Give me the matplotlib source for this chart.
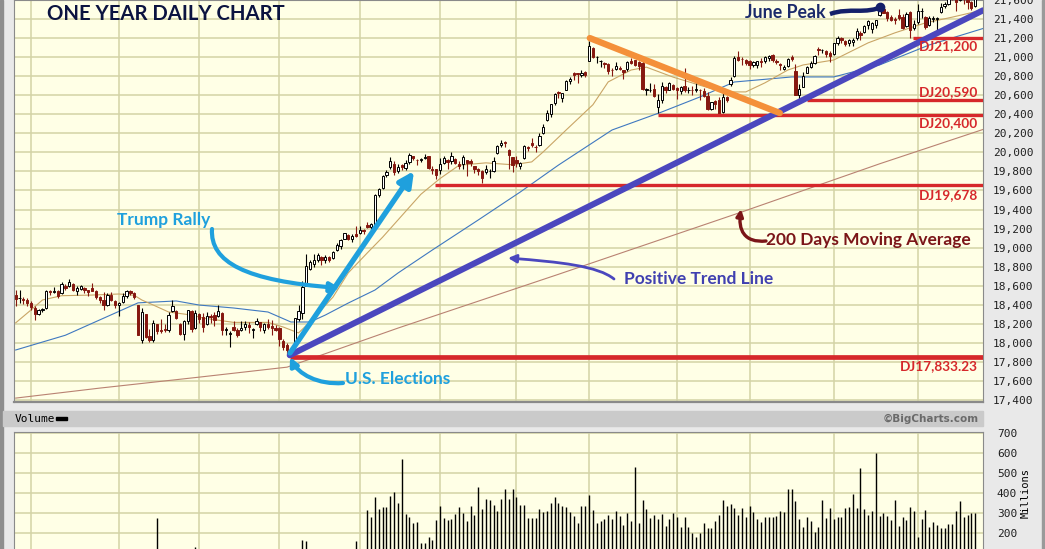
import numpy as np
import matplotlib
matplotlib.use("Agg")
import matplotlib.pyplot as plt
from matplotlib.path import Path
from matplotlib.patches import FancyArrowPatch, PathPatch, Rectangle

# ---- DJIA daily data, Jul 2016 - Jul 2017 ----
opens = [
    18500, 18470, 18465, 18450,
    18420, 18370, 18300, 18340, 18370, 18545, 18530, 18545, 18520, 18600, 18600, 18620,
    18545, 18570, 18580, 18550, 18580, 18545, 18480, 18450, 18400, 18500, 18440,
    18395, 18425, 18490, 18540, 18525, 18400, 18030, 18300, 18070, 18030, 18200,
    18140, 18150, 18130, 18330, 18330, 18200, 18090, 18230, 18330, 18160,
    18300, 18270, 18200, 18280, 18290, 18280, 18310, 18130, 18090, 18170, 18140,
    18130, 18165, 18190, 18140, 18200, 18220, 18130, 18200, 18180, 18160,
    18160, 18020, 17980, 17930, 17995, 18250, 18315, 18600, 18780, 18830, 18870,
    18900, 18870, 18905, 18890, 18980, 19015, 19095, 19130, 19090, 19140,
    19150, 19185, 19240, 19220, 19250, 19550, 19630, 19760, 19850, 19880, 19800,
    19870, 19840, 19900, 19960, 19925, 19920, 19945, 19960, 19830, 19830,
    19820, 19890, 19925, 19905, 19930, 19880, 19880, 19920, 19905, 19860,
    19830, 19800, 19795, 19800, 19800, 19995, 20080, 20105, 20030, 19950,
    19920, 19860, 19940, 20060, 20100, 20060, 20080, 20200, 20340, 20400,
    20520, 20630, 20570, 20660, 20750, 20830, 20830, 20810, 20840,
    20960, 21100, 21000, 20955, 20940, 20925, 20870, 20880, 20890, 20860, 20880, 20960,
    20970, 20950, 20935, 20660, 20650, 20670, 20480, 20545, 20690, 20660, 20710,
    20680, 20640, 20700, 20650, 20660, 20660, 20660, 20640, 20590, 20460,
    20540, 20550, 20420, 20580, 20720, 20800, 21000, 20985, 20970,
    20960, 20920, 20920, 20960, 20960, 20990, 21020, 20960, 20930, 20880, 20910,
    21000, 20850, 20600, 20690, 20830, 20900, 20940, 21090, 21075, 21060, 21040,
    21030, 21150, 21200, 21170, 21150, 21160, 21200, 21250, 21260, 21340, 21300,
    21340, 21440, 21510, 21470, 21420, 21400, 21440, 21420, 21330, 21470, 21310,
    21370, 21480, 21420, 21340, 21400, 21400, 21470, 21540, 21560, 21640, 21610,
    21600, 21650, 21600, 21580, 21540,
]
highs = [
    18550, 18560, 18480, 18470,
    18440, 18390, 18360, 18370, 18560, 18560, 18590, 18560, 18640, 18620, 18670, 18625,
    18600, 18610, 18590, 18560, 18630, 18550, 18495, 18530, 18520, 18530, 18450,
    18430, 18520, 18550, 18560, 18535, 18400, 18370, 18300, 18150, 18240, 18200,
    18250, 18200, 18320, 18450, 18340, 18210, 18240, 18345, 18350, 18350,
    18310, 18310, 18320, 18300, 18320, 18400, 18320, 18170, 18120, 18230, 18160,
    18230, 18230, 18220, 18160, 18260, 18220, 18210, 18250, 18240, 18190,
    18170, 18040, 18000, 17960, 18260, 18400, 18650, 18935, 18870, 18935, 18940,
    18910, 18920, 18915, 18960, 19045, 19090, 19155, 19140, 19140, 19230,
    19225, 19200, 19265, 19260, 19560, 19630, 19760, 19815, 19955, 19910, 19880,
    19880, 19920, 19990, 19960, 19935, 19940, 19985, 19960, 19860, 19830,
    19940, 19960, 19930, 20000, 19945, 19905, 19975, 19925, 19930, 19860,
    19840, 19810, 19870, 19830, 19950, 20080, 20125, 20120, 20040, 19950,
    19960, 19900, 20080, 20070, 20155, 20075, 20200, 20300, 20440, 20505,
    20620, 20640, 20625, 20760, 20790, 20840, 20830, 20860, 20850,
    21170, 21110, 21010, 20970, 20950, 20935, 20890, 20950, 20910, 20860, 20960, 20990,
    20975, 20960, 20960, 20680, 20730, 20720, 20610, 20740, 20700, 20740, 20720,
    20690, 20700, 20890, 20690, 20700, 20730, 20665, 20680, 20630, 20530,
    20550, 20580, 20630, 20590, 20790, 21010, 21060, 21000, 20980,
    20970, 20960, 20960, 20990, 21010, 21020, 21030, 20985, 20940, 20920, 20990,
    21020, 20930, 20720, 20840, 20910, 20960, 21020, 21110, 21090, 21070, 21060,
    21150, 21225, 21210, 21180, 21190, 21200, 21305, 21270, 21340, 21390, 21365,
    21395, 21535, 21520, 21480, 21445, 21420, 21505, 21450, 21470, 21480, 21390,
    21560, 21520, 21430, 21430, 21430, 21420, 21570, 21580, 21680, 21660, 21620,
    21660, 21660, 21610, 21590, 21650,
]
lows = [
    18390, 18420, 18410, 18390,
    18350, 18240, 18290, 18320, 18360, 18505, 18520, 18470, 18510, 18560, 18590, 18540,
    18500, 18550, 18520, 18490, 18540, 18460, 18420, 18350, 18390, 18440, 18370,
    18280, 18420, 18470, 18500, 18460, 18080, 18000, 18050, 18010, 18010, 18090,
    18100, 18110, 18110, 18320, 18250, 18080, 18030, 18200, 18110, 18150,
    18210, 18110, 18190, 18210, 18180, 18270, 18080, 18080, 17960, 18120, 18060,
    18120, 18140, 18100, 18050, 18190, 18120, 18100, 18150, 18080, 18120,
    17970, 17930, 17880, 17880, 17995, 18230, 18250, 18600, 18760, 18800, 18850,
    18820, 18840, 18850, 18880, 18960, 18990, 19090, 19080, 19060, 19110,
    19140, 19145, 19210, 19200, 19230, 19530, 19620, 19740, 19830, 19760, 19780,
    19810, 19820, 19880, 19920, 19865, 19900, 19930, 19830, 19770, 19720,
    19770, 19880, 19830, 19880, 19880, 19825, 19830, 19750, 19860, 19780,
    19760, 19680, 19770, 19730, 19790, 19980, 20060, 20060, 19830, 19790,
    19850, 19830, 19930, 20010, 20060, 20000, 20065, 20190, 20330, 20370,
    20500, 20570, 20530, 20660, 20720, 20760, 20730, 20790, 20790,
    20960, 20990, 20940, 20900, 20890, 20825, 20800, 20860, 20860, 20770, 20850, 20925,
    20905, 20870, 20660, 20600, 20630, 20580, 20410, 20520, 20620, 20650, 20650,
    20560, 20610, 20630, 20620, 20600, 20630, 20550, 20580, 20450, 20450,
    20460, 20400, 20410, 20530, 20700, 20790, 20960, 20920, 20920,
    20880, 20900, 20890, 20900, 20940, 20960, 20950, 20930, 20860, 20860, 20900,
    20960, 20600, 20550, 20690, 20830, 20890, 20930, 21020, 21040, 21000, 20950,
    21020, 21130, 21150, 21120, 21120, 21120, 21180, 21180, 21250, 21300, 21250,
    21310, 21430, 21460, 21380, 21380, 21350, 21390, 21300, 21320, 21200, 21290,
    21350, 21410, 21300, 21330, 21370, 21270, 21460, 21520, 21550, 21600, 21480,
    21590, 21560, 21510, 21500, 21530,
]
closes = [
    18460, 18475, 18445, 18420,
    18380, 18305, 18350, 18355, 18540, 18530, 18540, 18495, 18615, 18580, 18635, 18550,
    18575, 18600, 18550, 18530, 18545, 18480, 18450, 18395, 18500, 18455, 18400,
    18420, 18490, 18540, 18525, 18480, 18085, 18325, 18065, 18035, 18210, 18125,
    18120, 18130, 18295, 18390, 18260, 18095, 18230, 18340, 18145, 18310,
    18255, 18170, 18280, 18270, 18240, 18330, 18130, 18145, 18100, 18140, 18085,
    18160, 18200, 18165, 18145, 18225, 18170, 18200, 18170, 18160, 18140,
    18040, 17960, 17930, 17890, 18260, 18330, 18590, 18810, 18850, 18870, 18925,
    18870, 18905, 18865, 18955, 19025, 19085, 19150, 19095, 19120, 19125,
    19190, 19170, 19215, 19250, 19550, 19615, 19755, 19795, 19910, 19790, 19850,
    19845, 19885, 19975, 19940, 19920, 19935, 19945, 19835, 19820, 19760,
    19880, 19940, 19900, 19965, 19890, 19855, 19955, 19890, 19885, 19825,
    19805, 19730, 19825, 19800, 19910, 20070, 20100, 20095, 19970, 19865,
    19890, 19885, 20070, 20050, 20080, 20055, 20170, 20270, 20410, 20505,
    20610, 20620, 20625, 20745, 20775, 20810, 20820, 20835, 20810,
    21115, 21000, 21005, 20955, 20925, 20855, 20860, 20905, 20880, 20840, 20950, 20935,
    20915, 20905, 20670, 20660, 20655, 20595, 20550, 20700, 20660, 20730, 20665,
    20650, 20690, 20650, 20660, 20655, 20660, 20650, 20590, 20455, 20525,
    20510, 20405, 20580, 20550, 20765, 20995, 20975, 20980, 20940,
    20915, 20950, 20955, 20950, 21005, 21010, 20975, 20945, 20920, 20895, 20980,
    20980, 20605, 20665, 20805, 20895, 20935, 21010, 21080, 21080, 21030, 21010,
    21145, 21205, 21185, 21135, 21175, 21180, 21270, 21235, 21330, 21375, 21360,
    21385, 21530, 21465, 21410, 21395, 21395, 21410, 21310, 21455, 21285, 21350,
    21480, 21480, 21320, 21415, 21410, 21410, 21530, 21555, 21640, 21630, 21575,
    21640, 21610, 21580, 21515, 21615,
]
volume = [  # millions
    95, 80, 88, 92, 85, 90, 96, 88, 100, 76, 82, 86, 94, 85, 80, 92, 78, 74, 90, 70,
    78, 84, 88, 80, 92, 86, 98, 96, 90, 78, 86, 88, 118, 112, 110, 100, 96, 275, 94, 92,
    102, 98, 88, 96, 94, 100, 102, 130, 96, 100, 90, 86, 84, 96, 104, 92, 98, 96, 94, 88,
    92, 90, 94, 86, 90, 96, 100, 94, 96, 104, 100, 98, 102, 110, 116, 165, 160, 112, 104, 98,
    100, 96, 94, 100, 92, 90, 70, 98, 104, 160, 112, 110,
    315, 278, 378, 320, 328, 328, 383, 405, 348, 568, 295, 280, 250, 255, 148, 148, 178, 165, 265, 333,
    275, 265, 270, 295, 328, 300, 260, 335, 288, 428, 320, 370, 365, 340, 310, 370, 418, 370, 418, 380,
    340, 340, 277, 277, 277, 320, 305, 310, 348, 380, 348, 335, 328, 305, 287, 252, 335, 335, 390, 315,
    252, 262, 270, 290, 270, 310, 285, 240, 300, 262, 532, 252, 365, 320, 273, 290, 268, 295, 235, 270,
    298, 282, 232, 282, 228, 198, 182, 202, 252, 225, 227, 262, 290, 365, 335, 345, 323, 290, 327, 282,
    335, 305, 270, 255, 278, 278, 282, 285, 310, 305, 418, 418, 360, 270, 232, 278, 262, 203, 232, 365,
    273, 323, 268, 282, 278, 323, 332, 395, 323, 523, 318, 290, 310, 598, 285, 302, 285, 265, 365, 235,
    282, 265, 328, 310, 178, 270, 315, 232, 257, 240, 223, 227, 243, 243, 310, 360, 278, 290, 298, 298,
]

# moving averages as drawn (day index, price)
ma20_day = [0, 4, 7, 12, 20, 27, 31, 33, 36, 40, 46, 49, 57, 66, 70, 74, 77, 83, 87, 92,
            96, 100, 106, 111, 116, 123, 130, 135, 138, 144, 151, 155, 161, 165, 172, 179,
            185, 191, 196, 202, 206, 214, 223, 230, 238, 245, 253]
ma20_val = [18210, 18345, 18450, 18495, 18502, 18513, 18500, 18450, 18397, 18324, 18292,
            18261, 18215, 18215, 18166, 18104, 18220, 18480, 18735, 18945, 19110, 19290,
            19560, 19725, 19865, 19890, 19870, 19900, 20005, 20235, 20500, 20740, 20865,
            20895, 20790, 20705, 20635, 20635, 20730, 20865, 20918, 20970, 21150, 21255,
            21360, 21420, 21495]
ma50_day = [0, 13, 32, 42, 48, 57, 66, 72, 77, 81, 87, 94, 100, 109, 121, 132, 142, 156,
            169, 179, 188, 203, 214, 226, 239, 253]
ma50_val = [17925, 18080, 18420, 18440, 18397, 18366, 18324, 18219, 18219, 18292, 18418,
            18555, 18733, 18975, 19290, 19584, 19867, 20235, 20424, 20582, 20739, 20792,
            20792, 20918, 21128, 21300]
ma200_day = [0, 22, 48, 71, 100, 142, 190, 226, 253]
ma200_val = [17420, 17525, 17640, 17745, 18155, 18720, 19375, 19880, 20240]

month_starts = [4, 27, 48, 69, 90, 111, 131, 150, 173, 192, 214, 236]
price_ticks = list(range(17400, 21601, 200))
vol_ticks = [200, 300, 400, 500, 600, 700]

support_level = [17850, 19660, 20395, 20550, 21205]
support_from = [71.7, 109.7, 168, 207, 234.7]
support_text = ["DJ17,833.23", "DJ19,678", "DJ20,400", "DJ20,590", "DJ21,200"]

# ---- styles ----
W, H = 1045, 549
BG = "#E9E9E9"
PANEL = "#FFFFE6"
GRID = "#D3D3A6"
RED_C = "#861810"
LBLUE = "#1FA0DD"
TREND = "#4B47BE"
SUP = "#D6282B"
ANN_FONT = ["Lato", "DejaVu Sans"]
ANN_SIZE = 12.5

fig = plt.figure(figsize=(W / 100, H / 100), dpi=100, facecolor=BG)

XL = (-0.44, 253.05)
ax = fig.add_axes([14 / W, 1 - 402 / H, 969 / W, 402 / H], facecolor=PANEL)
ax.set_xlim(*XL)
ax.set_ylim(21600 - 402 * 10.5, 21600)

o, h, l, c = map(np.array, (opens, highs, lows, closes))
x = np.arange(len(c))
up = c >= o
lo = np.minimum(o, c)
hb = np.maximum(np.abs(c - o), 4)

ax.set_xticks(month_starts)
ax.set_yticks(price_ticks)
ax.grid(True, color=GRID, lw=1.1, zorder=0)
ax.set_axisbelow(True)
ax.yaxis.tick_right()
ax.tick_params(axis="y", length=0, pad=7, labelsize=8, labelcolor="#202020")
ax.tick_params(axis="x", length=0, labelbottom=False)
ax.set_yticklabels([f"{v:,}" for v in price_ticks], family="DejaVu Sans Mono")
for s in ax.spines.values():
    s.set_color("#8A8A8A")
ax.spines["bottom"].set_linewidth(1.6)

ax.plot(ma200_day, ma200_val, color="#B98272", lw=0.8, zorder=2)
ax.plot(ma50_day, ma50_val, color="#3F78C0", lw=0.8, zorder=2)
ax.plot(ma20_day, ma20_val, color="#C9A566", lw=0.8, zorder=2)

ax.vlines(x[up], l[up], h[up], color="black", lw=0.8, zorder=3)
ax.vlines(x[~up], l[~up], h[~up], color=RED_C, lw=0.8, zorder=3)
ax.bar(x[up], hb[up], bottom=lo[up], width=0.6, facecolor="white",
       edgecolor="black", lw=0.7, zorder=4)
ax.bar(x[~up], hb[~up], bottom=lo[~up], width=0.6, facecolor=RED_C,
       edgecolor=RED_C, lw=0.7, zorder=4)

# annotations living on the price scale
for lev, x0 in zip(support_level, support_from):
    ax.plot([x0, XL[1]], [lev, lev], color=SUP, lw=3.4 if lev < 18000 else 2.4,
            zorder=6, solid_capstyle="butt")
ax.plot([71.7, XL[1]], [17870, 17870 + 19.97 * (XL[1] - 71.7)], color=TREND, lw=4.4,
        zorder=7, solid_capstyle="round")
ax.plot([150.2, 199.9], [21200, 20413], color="#F4903A", lw=4.6, zorder=7,
        solid_capstyle="round")

# volume panel
axv = fig.add_axes([14 / W, 1 - 573 / H, 969 / W, 141 / H], facecolor=PANEL)
axv.set_xlim(*XL)
axv.set_ylim(0, 705)
axv.set_xticks(month_starts)
axv.set_yticks(vol_ticks)
axv.grid(True, color=GRID, lw=1.1, zorder=0)
axv.set_axisbelow(True)
axv.yaxis.tick_right()
axv.tick_params(axis="y", length=0, pad=10, labelsize=8, labelcolor="#202020")
axv.tick_params(axis="x", length=0, labelbottom=False)
axv.set_yticklabels([str(v) for v in vol_ticks], family="DejaVu Sans Mono")
for s in axv.spines.values():
    s.set_color("#8A8A8A")
axv.vlines(np.arange(len(volume)), 0, volume, color="black", lw=1.0, zorder=3)

# overlay in pixel coordinates for hand-drawn notes
ov = fig.add_axes([0, 0, 1, 1], facecolor="none")
ov.set_xlim(0, W)
ov.set_ylim(H, 0)
ov.axis("off")

ov.add_patch(Rectangle((0, 0), 3, H, color="#8E8E8E", zorder=0))
ov.add_patch(Rectangle((1042, 0), 3, H, color="#9A9A9A", zorder=0))
ov.add_patch(Rectangle((3, 411), 980, 15, color="#CACACA", zorder=0))
ov.add_patch(Rectangle((56, 416.5), 11, 3.5, color="black", zorder=1))
ov.text(15, 418.5, "Volume", family="DejaVu Sans Mono", fontsize=8, va="center")
ov.text(979, 418.5, "\u00a9BigCharts.com", family="DejaVu Sans", weight="bold",
        fontsize=7.5, color="#6A6A6A", va="center", ha="right")
ov.text(1026, 493, "Millions", family="DejaVu Sans Mono", fontsize=7.5,
        rotation=90, va="center", ha="center")

C3 = [Path.MOVETO, Path.CURVE4, Path.CURVE4, Path.CURVE4]

def curve_arrow(pts, color, lw, ms):
    ov.add_patch(FancyArrowPatch(path=Path(pts, C3), arrowstyle="-|>", color=color,
                                 lw=lw, mutation_scale=ms, zorder=8))

# Trump rally
curve_arrow([(212, 229), (210, 262), (245, 281), (340, 288)], LBLUE, 3.0, 14)
ov.add_patch(FancyArrowPatch((290, 353), (414, 171), arrowstyle="-|>", color=LBLUE,
                             lw=3.8, mutation_scale=22, shrinkA=0, shrinkB=0, zorder=8))
curve_arrow([(343, 383), (318, 385), (298, 374), (290, 357)], LBLUE, 3.0, 12)
# trend line note
curve_arrow([(614, 279), (598, 266), (560, 262), (508, 258)], TREND, 2.0, 12)
# 200 day note
curve_arrow([(766, 241), (744, 243), (738, 230), (741, 209)], "#7B1518", 2.4, 10)
# June peak squiggle
ov.add_patch(PathPatch(Path([(830, 14), (850, 7), (865, 15), (884, 6)], C3),
                       fill=False, color="#14206A", lw=3.2, zorder=8))
ov.plot([880], [7], "o", color="#14206A", ms=6, zorder=8)

ov.text(47, 14, "ONE YEAR DAILY CHART", family=ANN_FONT, weight="bold", fontsize=14.6,
        color="#0B1340", va="center")
ov.text(745, 12, "June Peak", family=ANN_FONT, weight="bold", fontsize=12.8,
        color="#1B2A6B", va="center")
ov.text(117, 220, "Trump Rally", family=ANN_FONT, weight="bold", fontsize=ANN_SIZE,
        color=LBLUE, va="center")
ov.text(345, 379, "U.S. Elections", family=ANN_FONT, weight="bold", fontsize=ANN_SIZE,
        color=LBLUE, va="center")
ov.text(624, 279, "Positive Trend Line", family=ANN_FONT, weight="bold",
        fontsize=ANN_SIZE, color="#4040B0", va="center")
ov.text(766, 240, "200 Days Moving Average", family=ANN_FONT, weight="bold",
        fontsize=ANN_SIZE, color="#7B1518", va="center")
for txt, yy in zip(support_text, [366, 195, 123, 92, 46]):
    ov.text(978, yy, txt, family=ANN_FONT, weight="bold", fontsize=9.8, color=SUP,
            va="center", ha="right")

fig.savefig("out.png", dpi=100, facecolor=BG)
